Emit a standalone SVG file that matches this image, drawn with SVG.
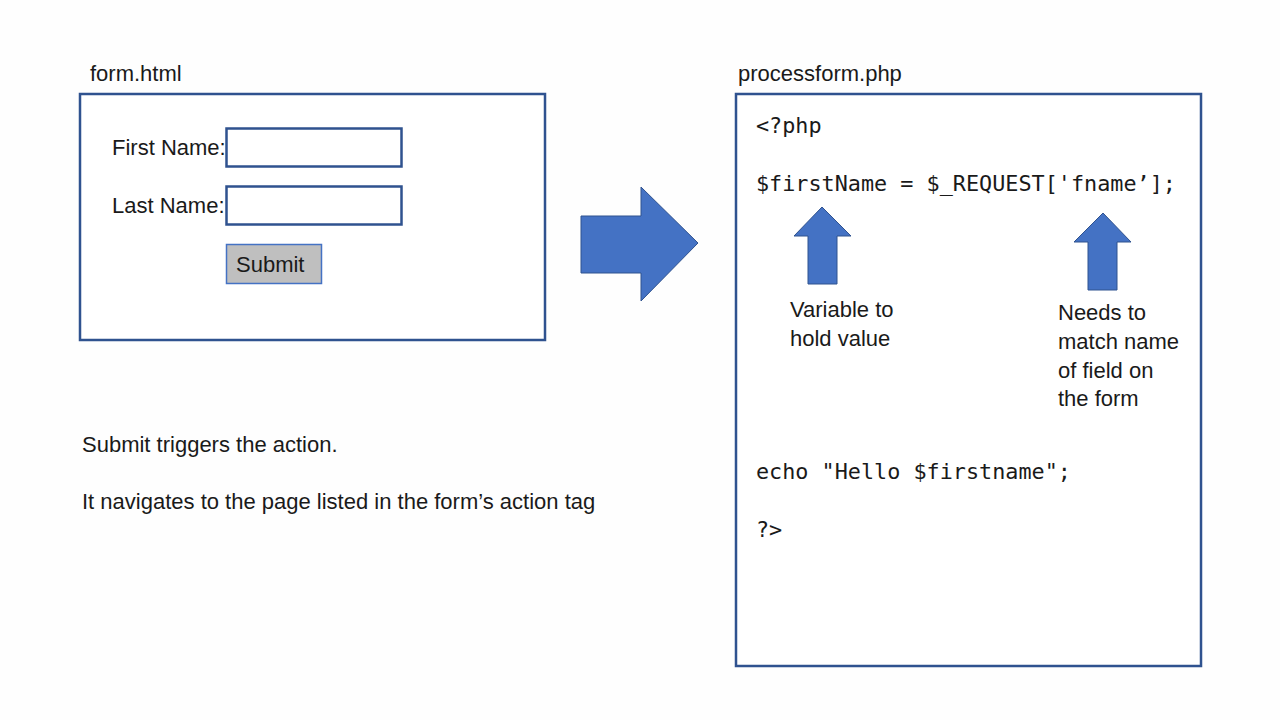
<svg xmlns="http://www.w3.org/2000/svg" width="1280" height="720" viewBox="0 0 1280 720">
<defs>
<style>
.t{font-family:"Liberation Sans",Arial,sans-serif;font-size:22px;fill:#1a1a1a}
.c{font-family:"DejaVu Sans Mono","Liberation Mono",monospace;font-size:21.8px;fill:#1a1a1a}
.box{fill:#ffffff;stroke:#2F528F;stroke-width:2.5}
.arr{fill:#4472C4;stroke:#2F528F;stroke-width:1}
</style>
</defs>
<rect x="0" y="0" width="1280" height="720" fill="#fefefe"/>
<g id="form-html">
<text class="t" x="90" y="81">form.html</text>
<rect class="box" x="80" y="94" width="465" height="246"/>
<text class="t" x="112" y="155">First Name:</text>
<rect class="box" x="226.5" y="128.5" width="175" height="38"/>
<text class="t" x="112" y="213">Last Name:</text>
<rect class="box" x="226.5" y="186.5" width="175" height="38"/>
<rect x="226.5" y="244.5" width="95" height="39" fill="#BFBFBF" stroke="#4472C4" stroke-width="1.5"/>
<text class="t" x="236" y="272">Submit</text>
</g>
<g id="connectors">
<polygon class="arr" points="581,216 641,216 641,187 698,243 641,301 641,273 581,273"/>
</g>
<g id="processform-php">
<text class="t" x="738" y="81">processform.php</text>
<rect class="box" x="736" y="94" width="465" height="572"/>
<text class="c" x="756" y="133">&lt;?php</text>
<text class="c" x="756" y="191">$firstName = $_REQUEST['fname’];</text>
<text class="c" x="756" y="479">echo "Hello $firstname";</text>
<text class="c" x="756" y="537">?&gt;</text>
</g>
<g id="variable-note">
<polygon class="arr" points="822,207 851,236 837,236 837,284 808,284 808,236 794,236"/>
<text class="t" x="790" y="317">Variable to</text>
<text class="t" x="790" y="346">hold value</text>
</g>
<g id="match-note">
<polygon class="arr" points="1103,213 1131,242 1117,242 1117,290 1088,290 1088,242 1074,242"/>
<text class="t" x="1058" y="320">Needs to</text>
<text class="t" x="1058" y="349">match name</text>
<text class="t" x="1058" y="378">of field on</text>
<text class="t" x="1058" y="406">the form</text>
</g>
<g id="explanation">
<text class="t" x="82" y="452">Submit triggers the action.</text>
<text class="t" x="82" y="509">It navigates to the page listed in the form’s action tag</text>
</g>
</svg>
